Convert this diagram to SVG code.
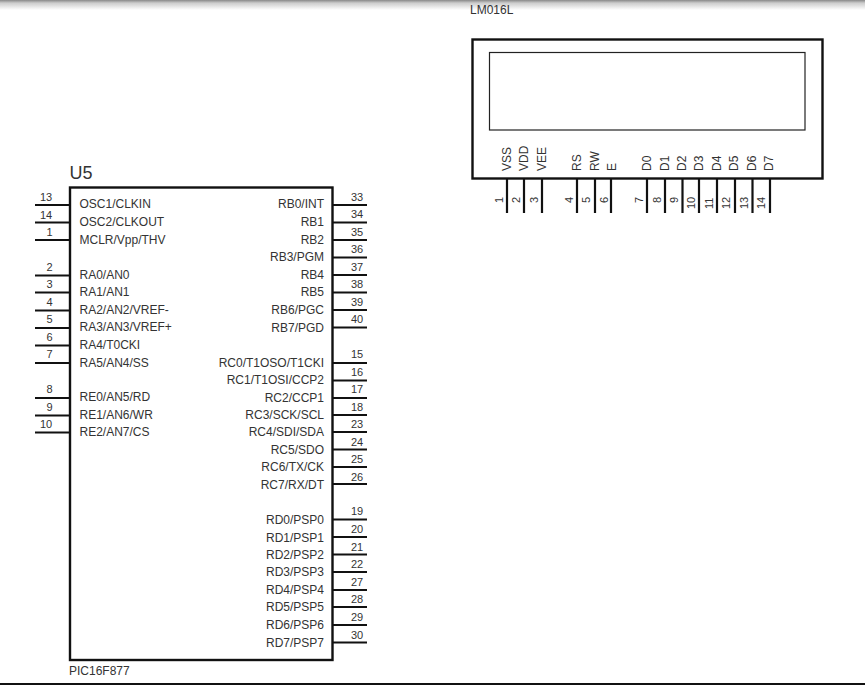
<svg xmlns="http://www.w3.org/2000/svg" width="865" height="685" viewBox="0 0 865 685">
<style>
text{font-family:"Liberation Sans",Arial,sans-serif;font-size:12px;fill:#333}
.box{fill:none;stroke:#111;stroke-width:2.4}
.lcd{fill:none;stroke:#222;stroke-width:1.2}
.pin{stroke:#111;stroke-width:2.2;fill:none}
text.num{text-anchor:middle;font-size:11px}
text.n{font-size:11px}
.r{text-anchor:end}
</style>
<defs>
<linearGradient id="top" x1="0" y1="0" x2="0" y2="1"><stop offset="0" stop-color="#888"/><stop offset="0.3" stop-color="#ccc"/><stop offset="1" stop-color="#fff"/></linearGradient>
</defs>
<rect width="865" height="685" fill="#fff"/>
<rect width="865" height="10" fill="url(#top)"/>
<rect y="683" width="865" height="2" fill="#111"/>
<g id="U5">
<rect class="box" x="70" y="187.500" width="262.500" height="472.500"/>
<text x="69.500" y="179" style="font-size:18px">U5</text>
<text x="69" y="674.500">PIC16F877</text>
<text x="79.500" y="208">OSC1/CLKIN</text>
<text x="79.500" y="226">OSC2/CLKOUT</text>
<text x="79.500" y="244">MCLR/Vpp/THV</text>
<text x="79.500" y="279">RA0/AN0</text>
<text x="79.500" y="296">RA1/AN1</text>
<text x="79.500" y="314">RA2/AN2/VREF-</text>
<text x="79.500" y="331">RA3/AN3/VREF+</text>
<text x="79.500" y="349">RA4/T0CKI</text>
<text x="79.500" y="367">RA5/AN4/SS</text>
<text x="79.500" y="401">RE0/AN5/RD</text>
<text x="79.500" y="419">RE1/AN6/WR</text>
<text x="79.500" y="436">RE2/AN7/CS</text>
<g>
<text class="r" x="324" y="208">RB0/INT</text>
<text class="r" x="324" y="226">RB1</text>
<text class="r" x="324" y="244">RB2</text>
<text class="r" x="324" y="261">RB3/PGM</text>
<text class="r" x="324" y="279">RB4</text>
<text class="r" x="324" y="296">RB5</text>
<text class="r" x="324" y="314">RB6/PGC</text>
<text class="r" x="324" y="332">RB7/PGD</text>
<text class="r" x="324" y="367">RC0/T1OSO/T1CKI</text>
<text class="r" x="324" y="384">RC1/T1OSI/CCP2</text>
<text class="r" x="324" y="402">RC2/CCP1</text>
<text class="r" x="324" y="419">RC3/SCK/SCL</text>
<text class="r" x="324" y="436">RC4/SDI/SDA</text>
<text class="r" x="324" y="454">RC5/SDO</text>
<text class="r" x="324" y="471">RC6/TX/CK</text>
<text class="r" x="324" y="489">RC7/RX/DT</text>
<text class="r" x="324" y="524">RD0/PSP0</text>
<text class="r" x="324" y="542">RD1/PSP1</text>
<text class="r" x="324" y="559">RD2/PSP2</text>
<text class="r" x="324" y="576">RD3/PSP3</text>
<text class="r" x="324" y="594">RD4/PSP4</text>
<text class="r" x="324" y="611">RD5/PSP5</text>
<text class="r" x="324" y="629">RD6/PSP6</text>
<text class="r" x="324" y="647">RD7/PSP7</text>
</g>
<g>
<text class="num" x="46" y="201">13</text>
<text class="num" x="46" y="219">14</text>
<text class="num" x="49.500" y="236">1</text>
<text class="num" x="49.500" y="271">2</text>
<text class="num" x="49.500" y="288">3</text>
<text class="num" x="49.500" y="306">4</text>
<text class="num" x="49.500" y="323">5</text>
<text class="num" x="49.500" y="341">6</text>
<text class="num" x="49.500" y="358">7</text>
<text class="num" x="49.500" y="393">8</text>
<text class="num" x="49.500" y="411">9</text>
<text class="num" x="46" y="428">10</text>
<text class="num" x="357" y="201">33</text>
<text class="num" x="357" y="218">34</text>
<text class="num" x="357" y="236">35</text>
<text class="num" x="357" y="253">36</text>
<text class="num" x="357" y="271">37</text>
<text class="num" x="357" y="288">38</text>
<text class="num" x="357" y="306">39</text>
<text class="num" x="357" y="323">40</text>
<text class="num" x="357" y="358">15</text>
<text class="num" x="357" y="376">16</text>
<text class="num" x="357" y="393">17</text>
<text class="num" x="357" y="411">18</text>
<text class="num" x="357" y="428">23</text>
<text class="num" x="357" y="446">24</text>
<text class="num" x="357" y="463">25</text>
<text class="num" x="357" y="481">26</text>
<text class="num" x="357" y="515">19</text>
<text class="num" x="357" y="533">20</text>
<text class="num" x="357" y="551">21</text>
<text class="num" x="357" y="568">22</text>
<text class="num" x="357" y="586">27</text>
<text class="num" x="357" y="603">28</text>
<text class="num" x="357" y="621">29</text>
<text class="num" x="357" y="639">30</text>
</g>
</g>
<g id="LM016L">
<text x="470" y="14">LM016L</text>
<rect class="box" x="472.500" y="39.500" width="350" height="139"/>
<rect class="lcd" x="489.500" y="52.500" width="315.500" height="77.500"/>
<text transform="translate(511,171) rotate(-90)">VSS</text>
<text transform="translate(528,171) rotate(-90)">VDD</text>
<text transform="translate(546,171) rotate(-90)">VEE</text>
<text transform="translate(581,171) rotate(-90)">RS</text>
<text transform="translate(599,171) rotate(-90)">RW</text>
<text transform="translate(616,171) rotate(-90)">E</text>
<text transform="translate(651,171) rotate(-90)">D0</text>
<text transform="translate(669,171) rotate(-90)">D1</text>
<text transform="translate(686,171) rotate(-90)">D2</text>
<text transform="translate(703,171) rotate(-90)">D3</text>
<text transform="translate(721,171) rotate(-90)">D4</text>
<text transform="translate(738,171) rotate(-90)">D5</text>
<text transform="translate(756,171) rotate(-90)">D6</text>
<text transform="translate(773,171) rotate(-90)">D7</text>
<text class="n" transform="translate(503,203) rotate(-90)">1</text>
<text class="n" transform="translate(520,203) rotate(-90)">2</text>
<text class="n" transform="translate(538,203) rotate(-90)">3</text>
<text class="n" transform="translate(573,203) rotate(-90)">4</text>
<text class="n" transform="translate(590,203) rotate(-90)">5</text>
<text class="n" transform="translate(608,203) rotate(-90)">6</text>
<text class="n" transform="translate(643,203) rotate(-90)">7</text>
<text class="n" transform="translate(661,203) rotate(-90)">8</text>
<text class="n" transform="translate(678,203) rotate(-90)">9</text>
<text class="n" transform="translate(695,209) rotate(-90)">10</text>
<text class="n" transform="translate(713,209) rotate(-90)">11</text>
<text class="n" transform="translate(730,209) rotate(-90)">12</text>
<text class="n" transform="translate(748,209) rotate(-90)">13</text>
<text class="n" transform="translate(765,209) rotate(-90)">14</text>
</g>
<g id="connectors" class="pin">
<path d="M35 205H70M35 222.500H70M35 240H70M35 275.500H70M35 292.500H70M35 310.500H70M35 328H70M35 345.500H70M35 363H70M35 398H70M35 415.500H70M35 432.500H70"/>
<path d="M333 205H367M333 222.500H367M333 240H367M333 257.500H367M333 275H367M333 292.500H367M333 310H367M333 327.500H367M333 363H367M333 380.500H367M333 398H367M333 415H367M333 432H367M333 449.500H367M333 467H367M333 484H367M333 519.500H367M333 537H367M333 554.500H367M333 572H367M333 590H367M333 607H367M333 625H367M333 642.500H367"/>
<path d="M507 179V213M524 179V213M542 179V213M577 179V213M595 179V213M611 179V213M647 179V213M665 179V213M682.500 179V213M699 179V213M717 179V213M735 179V213M752.500 179V213M770 179V213"/>
</g>
</svg>
